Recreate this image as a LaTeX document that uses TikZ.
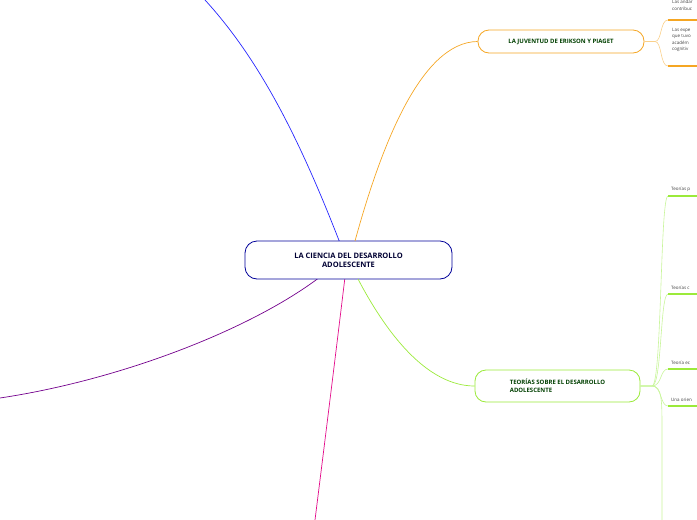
\documentclass[tikz,border=0pt]{standalone}
\usepackage{fontspec}
\setmainfont{Open Sans}
\begin{document}
\begin{tikzpicture}[x=1pt,y=-1pt,
  main/.style={draw=#1,rounded corners=12pt,line width=0.8pt,fill=white,font=\bfseries\fontsize{7.5}{9}\selectfont,text=black!80!blue,align=center},
  sub/.style={draw=#1,rounded corners=11pt,line width=0.8pt,fill=white,font=\bfseries\fontsize{6}{8}\selectfont,text=green!25!black,align=left,inner xsep=10pt},
  leaf/.style={font=\fontsize{4.5}{6.5}\selectfont,text=black!75,align=left,anchor=north west,inner sep=0pt},
  conn/.style={line width=0.7pt}]
\useasboundingbox (0,0) rectangle (697,520);
\begin{scope}
\clip (0,0) rectangle (697,520);
\definecolor{org}{HTML}{F5A623}
\definecolor{grn}{HTML}{9BEA3A}
\definecolor{lgrn}{HTML}{C8F59A}
\definecolor{lorg}{HTML}{FAD08A}
% main branches
\draw[conn,blue!80!cyan!90!black,draw=blue!85] (340,243) .. controls (300,140) and (260,60) .. (205,0);
\draw[conn,draw=violet!90!blue] (320,277) .. controls (250,330) and (120,380) .. (0,398);
\draw[conn,draw=magenta!90!violet] (345,277) .. controls (335,360) and (325,440) .. (315,520);
\node[main=blue!60!black,minimum width=207pt,minimum height=38pt] (c) at (348.5,260) {LA CIENCIA DEL DESARROLLO\\ADOLESCENTE};
\node[sub=org,minimum width=166pt,minimum height=23pt] (a) at (561,41.5) {LA JUVENTUD DE ERIKSON Y PIAGET};
\node[sub=grn,minimum width=165pt,minimum height=32pt] (b) at (557.5,386) {TEORÍAS SOBRE EL DESARROLLO\\ADOLESCENTE};
\draw[conn,org] (355,241) .. controls (380,150) and (420,42) .. (a.west);
\draw[conn,grn] (358,279) .. controls (390,340) and (430,386) .. (b.west);
% orange leaves
\coordinate (a1) at (668,20);
\coordinate (a2) at (668,66);
\draw[lorg,line width=0.6pt] (a.east) -- (655,41.5) .. controls (662,41.5) and (660,20) .. (a1);
\draw[lorg,line width=0.6pt] (655,41.5) .. controls (662,41.5) and (660,66) .. (a2);
\draw[org,line width=1.2pt] (a1) -- (697,20);
\draw[org,line width=1.2pt] (a2) -- (697,66);
\node[leaf] (t1) at (672,0) {Las andar\\contribuc};
\node[leaf] (t2) at (672,28) {Las expe\\que tuvo\\académ\\cognitiv};
% green leaves
\foreach \y/\t in {196/Teorías p,294/Teorías c,369/Teoría ec,406/Una orien}{
  \draw[lgrn,line width=0.6pt] (b.east) -- (652,386) .. controls (662,386) and (660,\y) .. (668,\y);
  \draw[grn,line width=1.2pt] (668,\y) -- (697,\y);
  \node[leaf,anchor=south west] at (671,\y-4) {\t};
}
\draw[lgrn,line width=0.6pt] (652,386) .. controls (662,386) and (662,400) .. (662,430) -- (662,520);
\end{scope}
\end{tikzpicture}
\end{document}
